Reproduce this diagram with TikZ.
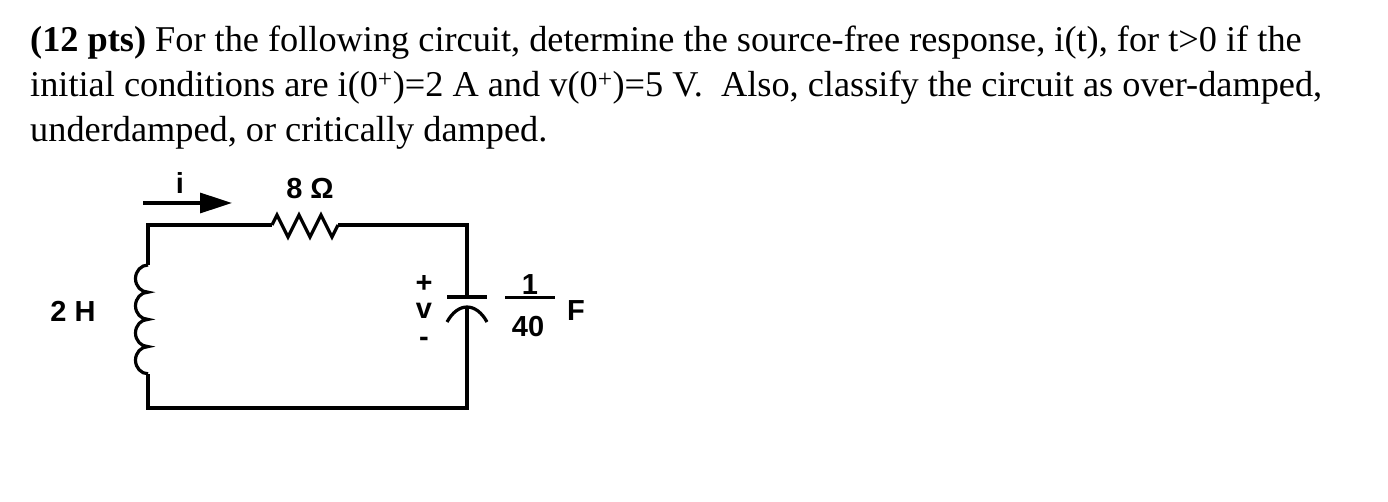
\documentclass[tikz,border=0pt]{standalone}
\usepackage{fontspec}
\setmainfont{Liberation Serif}
\newfontfamily\lsans{Liberation Sans}
\usetikzlibrary{arrows.meta}
\begin{document}
\begin{tikzpicture}[x=1pt,y=-1pt,
  txt/.style={anchor=base west,inner sep=0pt,font=\fontsize{36.3}{40}\selectfont},
  lbl/.style={inner sep=0pt,font=\lsans\bfseries\fontsize{29}{32}\selectfont},
  wire/.style={line width=3.2pt}]
\useasboundingbox (0,0) rectangle (1388,502);
\node[txt] (l1) at (30,52) {\textbf{(12 pts)} For the following circuit, determine the source-free response, i(t), for t>0 if the};
\node[txt] (l2) at (30,97) {initial conditions are i(0\textsuperscript{+})=2 A and v(0\textsuperscript{+})=5 V.\ \ Also, classify the circuit as over-damped,};
\node[txt] (l3) at (30,142) {underdamped, or critically damped.};
% circuit
\coordinate (tl) at (148,225);
\coordinate (tr) at (467,225);
\coordinate (bl) at (148,408);
\coordinate (br) at (467,408);
\coordinate (r1) at (272,225);
\coordinate (r2) at (338,225);
\coordinate (l1t) at (148,265);
\coordinate (l1b) at (148,374);
\coordinate (cp) at (467,297);
\coordinate (cc) at (467,307);
\draw[wire] (l1t) -- (tl) -- (r1);
\draw[wire] (r1) -- ++(5,-10) -- ++(11,22) -- ++(11,-22) -- ++(11,22) -- ++(11,-22) -- ++(11,22) -- (r2);
\draw[wire] (r2) -- (tr) -- (cp);
\draw[wire] (447,297) -- (487,297);
\draw[wire] (447,322) .. controls (458,302) and (476,302) .. (487,322);
\draw[wire] (cc) -- (br) -- (bl) -- (l1b);
\draw[wire] (l1t) foreach \k in {0,1,2,3} {arc[start angle=270,end angle=90,x radius=12.5,y radius=13.6]};
% labels
\draw[line width=3.2pt,-{Triangle[length=32pt,width=20pt]}] (143,203) -- (232,203);
\node[lbl] (i) at (180,183) {i};
\node[lbl] (R) at (310,189) {8 Ω};
\node[lbl] (L) at (73,311) {2 H};
\node[lbl] (p) at (424,284) {+};
\node[lbl] (v) at (424,311) {v};
\node[lbl] (m) at (424,342) {-};
\node[lbl] (n) at (530,285) {1};
\draw[line width=3pt] (505,298) -- (555,298);
\node[lbl] (d) at (528,327) {40};
\node[lbl] (F) at (576,311) {F};
\end{tikzpicture}
\end{document}
